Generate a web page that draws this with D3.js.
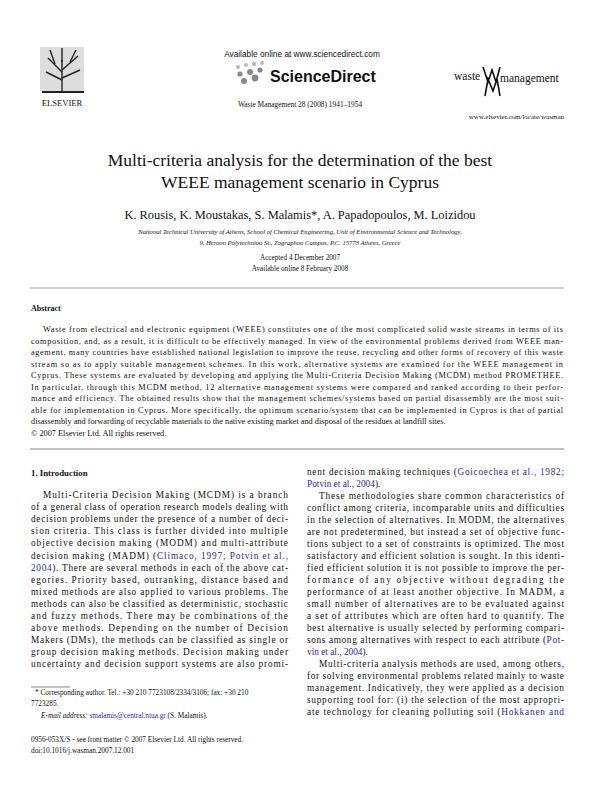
<!DOCTYPE html>
<html><head><meta charset="utf-8">
<script src="https://cdn.jsdelivr.net/npm/d3@7"></script>
<style>body{margin:0;background:#fff}</style>
</head><body><div id="page"></div>
<script>
// page text, one entry per printed line; [..] marks a blue citation link
var titleLines = ["Multi-criteria analysis for the determination of the best", "WEEE management scenario in Cyprus"];
var authors = "K. Rousis, K. Moustakas, S. Malamis*, A. Papadopoulos, M. Loizidou";
var affiliation = ["National Technical University of Athens, School of Chemical Engineering, Unit of Environmental Science and Technology,",
  "9, Heroon Polytechniou St., Zographou Campus, P.C. 15773 Athens, Greece"];
var dates = ["Accepted 4 December 2007", "Available online 8 February 2008"];
var abstractLines = [
  "Waste from electrical and electronic equipment (WEEE) constitutes one of the most complicated solid waste streams in terms of its",
  "composition, and, as a result, it is difficult to be effectively managed. In view of the environmental problems derived from WEEE man-",
  "agement, many countries have established national legislation to improve the reuse, recycling and other forms of recovery of this waste",
  "stream so as to apply suitable management schemes. In this work, alternative systems are examined for the WEEE management in",
  "Cyprus. These systems are evaluated by developing and applying the Multi-Criteria Decision Making (MCDM) method PROMETHEE.",
  "In particular, through this MCDM method, 12 alternative management systems were compared and ranked according to their perfor-",
  "mance and efficiency. The obtained results show that the management schemes/systems based on partial disassembly are the most suit-",
  "able for implementation in Cyprus. More specifically, the optimum scenario/system that can be implemented in Cyprus is that of partial",
  "disassembly and forwarding of recyclable materials to the native existing market and disposal of the residues at landfill sites.",
  "\u00a9 2007 Elsevier Ltd. All rights reserved."];
var abstractIndent = [1,0,0,0,0,0,0,0,0,0];
var abstractJustify = [1,1,1,1,1,1,1,1,0,0];
var leftLines = [
  "Multi-Criteria Decision Making (MCDM) is a branch",
  "of a general class of operation research models dealing with",
  "decision problems under the presence of a number of deci-",
  "sion criteria. This class is further divided into multiple",
  "objective decision making (MODM) and multi-attribute",
  "decision making (MADM) ([Climaco, 1997; Potvin et al.,]",
  "[2004]). There are several methods in each of the above cat-",
  "egories. Priority based, outranking, distance based and",
  "mixed methods are also applied to various problems. The",
  "methods can also be classified as deterministic, stochastic",
  "and fuzzy methods. There may be combinations of the",
  "above methods. Depending on the number of Decision",
  "Makers (DMs), the methods can be classified as single or",
  "group decision making methods. Decision making under",
  "uncertainty and decision support systems are also promi-"];
var leftIndent = [1,0,0,0,0,0,0,0,0,0,0,0,0,0,0];
var leftJustify = [1,1,1,1,1,1,1,1,1,1,1,1,1,1,1];
var rightLines = [
  "nent decision making techniques ([Goicoechea et al., 1982;]",
  "[Potvin et al., 2004]).",
  "These methodologies share common characteristics of",
  "conflict among criteria, incomparable units and difficulties",
  "in the selection of alternatives. In MODM, the alternatives",
  "are not predetermined, but instead a set of objective func-",
  "tions subject to a set of constraints is optimized. The most",
  "satisfactory and efficient solution is sought. In this identi-",
  "fied efficient solution it is not possible to improve the per-",
  "formance of any objective without degrading the",
  "performance of at least another objective. In MADM, a",
  "small number of alternatives are to be evaluated against",
  "a set of attributes which are often hard to quantify. The",
  "best alternative is usually selected by performing compari-",
  "sons among alternatives with respect to each attribute ([Pot-]",
  "[vin et al., 2004]).",
  "Multi-criteria analysis methods are used, among others,",
  "for solving environmental problems related mainly to waste",
  "management. Indicatively, they were applied as a decision",
  "supporting tool for: (i) the selection of the most appropri-",
  "ate technology for cleaning polluting soil ([Hokkanen and]"];
var rightIndent = [0,0,1,0,0,0,0,0,0,0,0,0,0,0,0,0,1,0,0,0,0];
var rightJustify = [1,0,1,1,1,1,1,1,1,1,1,1,1,1,1,0,1,1,1,1,1];
var footLines = ["* Corresponding author. Tel.: +30 210 7723108/2334/3106; fax: +30 210", "7723285."];
var bottomLines = ["0956-053X/S - see front matter \u00a9 2007 Elsevier Ltd. All rights reserved.", "doi:10.1016/j.wasman.2007.12.001"];

var W = 595, H = 794;
var serif = "'Liberation Serif', 'DejaVu Serif', serif";
var sans = "'Liberation Sans', Arial, sans-serif";
var linkColor = "#2a2a9a";

var svg = d3.select("#page").append("svg").attr("width", W).attr("height", H);

function addText(x, y, str, opt) {
  opt = opt || {};
  var t = svg.append("text")
    .attr("x", x).attr("y", y)
    .attr("font-family", opt.family || serif)
    .attr("font-size", opt.size || 9.3)
    .attr("font-style", opt.italic ? "italic" : null)
    .attr("font-weight", opt.bold ? "bold" : null)
    .attr("text-anchor", opt.anchor || "start")
    .attr("fill", "#111");
  var parts = str.split(/(\[[^\]]*\])/);
  parts.forEach(function(p) {
    if (!p) return;
    var link = p[0] == "[";
    t.append("tspan").attr("fill", link ? linkColor : null).text(link ? p.slice(1, -1) : p);
  });
  if (opt.width) t.attr("textLength", opt.width).attr("lengthAdjust", "spacing");
  return t;
}

function block(lines, x0, x1, y0, step, indent, justify, size) {
  var y = d3.scaleLinear().domain([0, 1]).range([y0, y0 + step]);
  lines.forEach(function(s, i) {
    var ind = indent[i] ? 12 : 0;
    addText(x0 + ind, y(i), s, {size: size, width: justify[i] ? (x1 - x0 - ind) : null});
  });
}

// header
addText(302, 57, "Available online at www.sciencedirect.com", {family: sans, size: 8.3, anchor: "middle"});
addText(270, 82, "ScienceDirect", {family: sans, size: 16, bold: true});
var dots = [[238,67,2],[246,65,2],[254,64,2.2],[262,63,2],[240,74,2.6],[250,72,3],[260,70,2.6],[244,81,3],[255,78,3.4]];
svg.selectAll("circle.sd").data(dots).enter().append("circle")
  .attr("cx", function(d){return d[0];}).attr("cy", function(d){return d[1];}).attr("r", function(d){return d[2];})
  .attr("fill", function(d,i){return i < 4 ? "#bbb" : "#888";});
addText(300, 107, "Waste Management 28 (2008) 1941\u20131954", {size: 7.4, anchor: "middle"});
addText(564, 119, "www.elsevier.com/locate/wasman", {size: 7, anchor: "end"});

// journal logo: "waste" + crossed W/M glyph + "management"
addText(454, 80, "waste", {size: 11.5});
svg.append("path").attr("fill", "none").attr("stroke", "#111").attr("stroke-width", 1.6)
  .attr("d", "M483,67 L488,82 L492,70 L496,82 L500,67 M485,96 L488,79 L493,91 L497,79 L500,96");
addText(500, 82, "management", {size: 11.5});

// elsevier logo: tree sketch
var lg = svg.append("g").attr("stroke", "#222").attr("fill", "none");
lg.append("rect").attr("x", 40).attr("y", 47).attr("width", 44).attr("height", 44).attr("stroke", "none").attr("fill", "#ddd");
var branches = [[62,92,62,60],[62,72,48,58],[62,70,78,56],[62,80,46,72],[62,78,80,70],[55,64,50,50],[70,62,76,50],[62,62,62,48]];
branches.forEach(function(b){ lg.append("line").attr("x1",b[0]).attr("y1",b[1]).attr("x2",b[2]).attr("y2",b[3]).attr("stroke-width",1.4); });
lg.append("line").attr("x1",42).attr("y1",92).attr("x2",84).attr("y2",92).attr("stroke-width",2);
addText(62, 106, "ELSEVIER", {size: 8.6, anchor: "middle"});

// title block
titleLines.forEach(function(s, i){ addText(300, 166 + i * 22, s, {size: 17.5, anchor: "middle"}); });
addText(300, 219, authors, {size: 12.4, anchor: "middle"});
affiliation.forEach(function(s, i){ addText(300, 234 + i * 10.5, s, {size: 6.6, italic: true, anchor: "middle"}); });
dates.forEach(function(s, i){ addText(300, 260 + i * 10.5, s, {size: 7.2, anchor: "middle"}); });

svg.append("line").attr("x1", 30).attr("x2", 564).attr("y1", 288).attr("y2", 288).attr("stroke", "#777").attr("stroke-width", 0.7);
addText(31, 311, "Abstract", {size: 8, bold: true});
block(abstractLines, 31, 563, 332, 11.55, abstractIndent, abstractJustify, 8.3);
svg.append("line").attr("x1", 30).attr("x2", 564).attr("y1", 449).attr("y2", 449).attr("stroke", "#777").attr("stroke-width", 0.9);

// body columns
addText(31, 476, "1. Introduction", {size: 8.8, bold: true});
block(leftLines, 31, 288, 498, 12.1, leftIndent, leftJustify, 9.3);
block(rightLines, 307, 564, 475, 12.0, rightIndent, rightJustify, 9.3);

// footnotes
svg.append("line").attr("x1", 31).attr("x2", 70).attr("y1", 687).attr("y2", 687).attr("stroke", "#333").attr("stroke-width", 0.6);
addText(35, 695, footLines[0], {size: 7.3});
addText(31, 706, footLines[1], {size: 7.3});
var em = addText(41, 718, "", {size: 7.3});
em.append("tspan").attr("font-style", "italic").text("E-mail address: ");
em.append("tspan").attr("fill", linkColor).text("smalamis@central.ntua.gr");
em.append("tspan").text(" (S. Malamis).");
bottomLines.forEach(function(s, i){ addText(31, 742 + i * 11, s, {size: 7.3}); });
</script>
</body></html>
